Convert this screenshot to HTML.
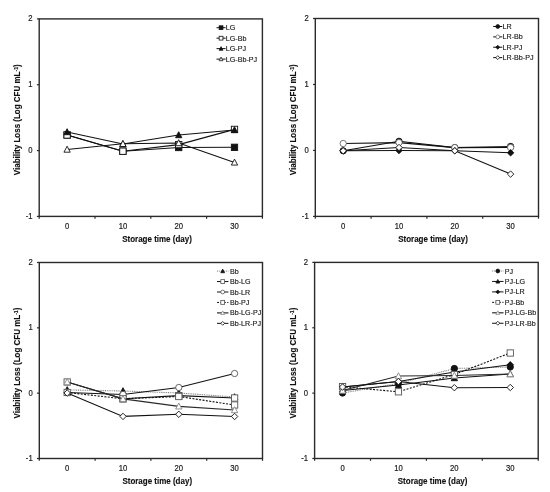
<!DOCTYPE html>
<html><head><meta charset="utf-8"><title>Viability loss</title>
<style>
html,body{margin:0;padding:0;background:#fff;}
svg{display:block;filter:blur(0.3px);}
text{font-family:"Liberation Sans",Arial,sans-serif;fill:#1a1a1a;}
.tk{font-size:8px;stroke:#1a1a1a;stroke-width:0.18px;}
.ti{font-size:8px;font-weight:bold;fill:#111;stroke:#111;stroke-width:0.12px;}
.sup{font-size:5.2px;}
.lg{font-size:7.15px;fill:#1a1a1a;stroke:#1a1a1a;stroke-width:0.15px;}
</style></head>
<body>
<svg width="550" height="492" viewBox="0 0 550 492">
<rect width="550" height="492" fill="#fff"/>
<rect x="39.2" y="18.9" width="223.2" height="197.5" fill="none" stroke="#2a2a2a" stroke-width="1.4"/>
<line x1="36.9" y1="18.9" x2="39.2" y2="18.9" stroke="#2a2a2a" stroke-width="1.2"/>
<text transform="translate(32.6,21.3) scale(0.96,1.2)" class="tk" text-anchor="end">2</text>
<line x1="36.9" y1="84.73" x2="39.2" y2="84.73" stroke="#2a2a2a" stroke-width="1.2"/>
<text transform="translate(32.6,87.13) scale(0.96,1.2)" class="tk" text-anchor="end">1</text>
<line x1="36.9" y1="150.57" x2="39.2" y2="150.57" stroke="#2a2a2a" stroke-width="1.2"/>
<text transform="translate(32.6,152.97) scale(0.96,1.2)" class="tk" text-anchor="end">0</text>
<line x1="36.9" y1="216.4" x2="39.2" y2="216.4" stroke="#2a2a2a" stroke-width="1.2"/>
<text transform="translate(32.6,218.8) scale(0.96,1.2)" class="tk" text-anchor="end">-1</text>
<line x1="39.2" y1="216.4" x2="39.2" y2="218.7" stroke="#2a2a2a" stroke-width="1.2"/>
<line x1="95" y1="216.4" x2="95" y2="218.7" stroke="#2a2a2a" stroke-width="1.2"/>
<line x1="150.8" y1="216.4" x2="150.8" y2="218.7" stroke="#2a2a2a" stroke-width="1.2"/>
<line x1="206.6" y1="216.4" x2="206.6" y2="218.7" stroke="#2a2a2a" stroke-width="1.2"/>
<line x1="262.4" y1="216.4" x2="262.4" y2="218.7" stroke="#2a2a2a" stroke-width="1.2"/>
<text transform="translate(67.1,228.8) scale(0.96,1.2)" class="tk" text-anchor="middle">0</text>
<text transform="translate(122.9,228.8) scale(0.96,1.2)" class="tk" text-anchor="middle">10</text>
<text transform="translate(178.7,228.8) scale(0.96,1.2)" class="tk" text-anchor="middle">20</text>
<text transform="translate(234.5,228.8) scale(0.96,1.2)" class="tk" text-anchor="middle">30</text>
<text transform="translate(122.2,241.5) scale(1,1.1)" class="ti">Storage time (day)</text>
<text transform="translate(19.5,175.2) rotate(-90) scale(1,1.1)" class="ti">Viability Loss (Log CFU mL<tspan dy="-1.2" class="sup">-1</tspan><tspan dy="1.2">)</tspan></text>
<polyline points="67.1,135 122.9,151.2 178.7,147.5 234.5,147.3" fill="none" stroke="#111" stroke-width="1.1" />
<rect x="63.95" y="131.85" width="6.3" height="6.3" fill="#111" stroke="#111" stroke-width="0.9"/><rect x="119.75" y="148.05" width="6.3" height="6.3" fill="#111" stroke="#111" stroke-width="0.9"/><rect x="175.55" y="144.35" width="6.3" height="6.3" fill="#111" stroke="#111" stroke-width="0.9"/><rect x="231.35" y="144.15" width="6.3" height="6.3" fill="#111" stroke="#111" stroke-width="0.9"/>
<polyline points="67.1,135 122.9,151.2 178.7,144.6 234.5,129.4" fill="none" stroke="#111" stroke-width="1.1" />
<rect x="63.95" y="131.85" width="6.3" height="6.3" fill="#fff" stroke="#111" stroke-width="0.9"/><rect x="119.75" y="148.05" width="6.3" height="6.3" fill="#fff" stroke="#111" stroke-width="0.9"/><rect x="175.55" y="141.45" width="6.3" height="6.3" fill="#fff" stroke="#111" stroke-width="0.9"/><rect x="231.35" y="126.25" width="6.3" height="6.3" fill="#fff" stroke="#111" stroke-width="0.9"/>
<polyline points="67.1,132 122.9,144 178.7,135 234.5,130" fill="none" stroke="#111" stroke-width="1.1" />
<polygon points="67.1,128.71 70.25,134.69 63.95,134.69" fill="#111" stroke="#111" stroke-width="0.9"/><polygon points="122.9,140.71 126.05,146.69 119.75,146.69" fill="#111" stroke="#111" stroke-width="0.9"/><polygon points="178.7,131.71 181.85,137.69 175.55,137.69" fill="#111" stroke="#111" stroke-width="0.9"/><polygon points="234.5,126.71 237.65,132.69 231.35,132.69" fill="#111" stroke="#111" stroke-width="0.9"/>
<polyline points="67.1,149.5 122.9,143.8 178.7,143 234.5,162.4" fill="none" stroke="#111" stroke-width="1.1" />
<polygon points="67.1,146.21 70.25,152.19 63.95,152.19" fill="#fff" stroke="#111" stroke-width="0.9"/><polygon points="122.9,140.51 126.05,146.49 119.75,146.49" fill="#fff" stroke="#111" stroke-width="0.9"/><polygon points="178.7,139.71 181.85,145.69 175.55,145.69" fill="#fff" stroke="#111" stroke-width="0.9"/><polygon points="234.5,159.11 237.65,165.09 231.35,165.09" fill="#fff" stroke="#111" stroke-width="0.9"/>
<line x1="216.5" y1="27.7" x2="225.6" y2="27.7" stroke="#111" stroke-width="1" />
<rect x="219.15" y="25.8" width="3.8" height="3.8" fill="#111" stroke="#111" stroke-width="0.8"/>
<text x="225.8" y="30.2" class="lg">LG</text>
<line x1="216.5" y1="38.17" x2="225.6" y2="38.17" stroke="#111" stroke-width="1" />
<rect x="219.15" y="36.27" width="3.8" height="3.8" fill="#fff" stroke="#111" stroke-width="0.8"/>
<text x="225.8" y="40.67" class="lg">LG-Bb</text>
<line x1="216.5" y1="48.64" x2="225.6" y2="48.64" stroke="#111" stroke-width="1" />
<polygon points="221.05,46.65 222.95,50.26 219.15,50.26" fill="#111" stroke="#111" stroke-width="0.8"/>
<text x="225.8" y="51.14" class="lg">LG-PJ</text>
<line x1="216.5" y1="59.11" x2="225.6" y2="59.11" stroke="#111" stroke-width="1" />
<polygon points="221.05,57.12 222.95,60.73 219.15,60.73" fill="#fff" stroke="#111" stroke-width="0.8"/>
<text x="225.8" y="61.61" class="lg">LG-Bb-PJ</text>
<rect x="315.3" y="18.5" width="223.2" height="197.9" fill="none" stroke="#2a2a2a" stroke-width="1.4"/>
<line x1="313" y1="18.5" x2="315.3" y2="18.5" stroke="#2a2a2a" stroke-width="1.2"/>
<text transform="translate(308.7,20.9) scale(0.96,1.2)" class="tk" text-anchor="end">2</text>
<line x1="313" y1="84.47" x2="315.3" y2="84.47" stroke="#2a2a2a" stroke-width="1.2"/>
<text transform="translate(308.7,86.87) scale(0.96,1.2)" class="tk" text-anchor="end">1</text>
<line x1="313" y1="150.43" x2="315.3" y2="150.43" stroke="#2a2a2a" stroke-width="1.2"/>
<text transform="translate(308.7,152.83) scale(0.96,1.2)" class="tk" text-anchor="end">0</text>
<line x1="313" y1="216.4" x2="315.3" y2="216.4" stroke="#2a2a2a" stroke-width="1.2"/>
<text transform="translate(308.7,218.8) scale(0.96,1.2)" class="tk" text-anchor="end">-1</text>
<line x1="315.3" y1="216.4" x2="315.3" y2="218.7" stroke="#2a2a2a" stroke-width="1.2"/>
<line x1="371.1" y1="216.4" x2="371.1" y2="218.7" stroke="#2a2a2a" stroke-width="1.2"/>
<line x1="426.9" y1="216.4" x2="426.9" y2="218.7" stroke="#2a2a2a" stroke-width="1.2"/>
<line x1="482.7" y1="216.4" x2="482.7" y2="218.7" stroke="#2a2a2a" stroke-width="1.2"/>
<line x1="538.5" y1="216.4" x2="538.5" y2="218.7" stroke="#2a2a2a" stroke-width="1.2"/>
<text transform="translate(343.2,228.8) scale(0.96,1.2)" class="tk" text-anchor="middle">0</text>
<text transform="translate(399,228.8) scale(0.96,1.2)" class="tk" text-anchor="middle">10</text>
<text transform="translate(454.8,228.8) scale(0.96,1.2)" class="tk" text-anchor="middle">20</text>
<text transform="translate(510.6,228.8) scale(0.96,1.2)" class="tk" text-anchor="middle">30</text>
<text transform="translate(398.2,241.5) scale(1,1.1)" class="ti">Storage time (day)</text>
<text transform="translate(295.5,175.2) rotate(-90) scale(1,1.1)" class="ti">Viability Loss (Log CFU mL<tspan dy="-1.2" class="sup">-1</tspan><tspan dy="1.2">)</tspan></text>
<polyline points="343.2,150.8 399,141.3 454.8,147.6 510.6,146.5" fill="none" stroke="#111" stroke-width="1.1" />
<circle cx="343.2" cy="150.8" r="3.15" fill="#111" stroke="#111" stroke-width="0.9"/><circle cx="399" cy="141.3" r="3.15" fill="#111" stroke="#111" stroke-width="0.9"/><circle cx="454.8" cy="147.6" r="3.15" fill="#111" stroke="#111" stroke-width="0.9"/><circle cx="510.6" cy="146.5" r="3.15" fill="#111" stroke="#111" stroke-width="0.9"/>
<polyline points="343.2,143.5 399,142.6 454.8,147.6 510.6,147.5" fill="none" stroke="#111" stroke-width="1.1" />
<circle cx="343.2" cy="143.5" r="3.15" fill="#fff" stroke="#666" stroke-width="0.9"/><circle cx="399" cy="142.6" r="3.15" fill="#fff" stroke="#666" stroke-width="0.9"/><circle cx="454.8" cy="147.6" r="3.15" fill="#fff" stroke="#666" stroke-width="0.9"/><circle cx="510.6" cy="147.5" r="3.15" fill="#fff" stroke="#666" stroke-width="0.9"/>
<polyline points="343.2,150.8 399,150.5 454.8,150.8 510.6,152.8" fill="none" stroke="#111" stroke-width="1.1" />
<polygon points="343.2,147.59 346.41,150.8 343.2,154.01 339.99,150.8" fill="#111" stroke="#111" stroke-width="0.9"/><polygon points="399,147.29 402.21,150.5 399,153.71 395.79,150.5" fill="#111" stroke="#111" stroke-width="0.9"/><polygon points="454.8,147.59 458.01,150.8 454.8,154.01 451.59,150.8" fill="#111" stroke="#111" stroke-width="0.9"/><polygon points="510.6,149.59 513.81,152.8 510.6,156.01 507.39,152.8" fill="#111" stroke="#111" stroke-width="0.9"/>
<polyline points="343.2,150.8 399,147.5 454.8,150.8 510.6,174.1" fill="none" stroke="#111" stroke-width="1.1" />
<polygon points="343.2,147.59 346.41,150.8 343.2,154.01 339.99,150.8" fill="#fff" stroke="#111" stroke-width="0.9"/><polygon points="399,144.29 402.21,147.5 399,150.71 395.79,147.5" fill="#fff" stroke="#111" stroke-width="0.9"/><polygon points="454.8,147.59 458.01,150.8 454.8,154.01 451.59,150.8" fill="#fff" stroke="#111" stroke-width="0.9"/><polygon points="510.6,170.89 513.81,174.1 510.6,177.31 507.39,174.1" fill="#fff" stroke="#111" stroke-width="0.9"/>
<line x1="493.2" y1="26.5" x2="502.3" y2="26.5" stroke="#111" stroke-width="1" />
<circle cx="497.75" cy="26.5" r="1.9" fill="#111" stroke="#111" stroke-width="0.8"/>
<text x="502.6" y="29" class="lg">LR</text>
<line x1="493.2" y1="36.87" x2="502.3" y2="36.87" stroke="#111" stroke-width="1" />
<circle cx="497.75" cy="36.87" r="1.9" fill="#fff" stroke="#666" stroke-width="0.8"/>
<text x="502.6" y="39.37" class="lg">LR-Bb</text>
<line x1="493.2" y1="47.24" x2="502.3" y2="47.24" stroke="#111" stroke-width="1" />
<polygon points="497.75,45.3 499.69,47.24 497.75,49.18 495.81,47.24" fill="#111" stroke="#111" stroke-width="0.8"/>
<text x="502.6" y="49.74" class="lg">LR-PJ</text>
<line x1="493.2" y1="57.61" x2="502.3" y2="57.61" stroke="#111" stroke-width="1" />
<polygon points="497.75,55.67 499.69,57.61 497.75,59.55 495.81,57.61" fill="#fff" stroke="#111" stroke-width="0.8"/>
<text x="502.6" y="60.11" class="lg">LR-Bb-PJ</text>
<rect x="39.3" y="262.5" width="223.2" height="196" fill="none" stroke="#2a2a2a" stroke-width="1.4"/>
<line x1="37" y1="262.5" x2="39.3" y2="262.5" stroke="#2a2a2a" stroke-width="1.2"/>
<text transform="translate(32.7,264.9) scale(0.96,1.2)" class="tk" text-anchor="end">2</text>
<line x1="37" y1="327.83" x2="39.3" y2="327.83" stroke="#2a2a2a" stroke-width="1.2"/>
<text transform="translate(32.7,330.23) scale(0.96,1.2)" class="tk" text-anchor="end">1</text>
<line x1="37" y1="393.17" x2="39.3" y2="393.17" stroke="#2a2a2a" stroke-width="1.2"/>
<text transform="translate(32.7,395.57) scale(0.96,1.2)" class="tk" text-anchor="end">0</text>
<line x1="37" y1="458.5" x2="39.3" y2="458.5" stroke="#2a2a2a" stroke-width="1.2"/>
<text transform="translate(32.7,460.9) scale(0.96,1.2)" class="tk" text-anchor="end">-1</text>
<line x1="39.3" y1="458.5" x2="39.3" y2="460.8" stroke="#2a2a2a" stroke-width="1.2"/>
<line x1="95.1" y1="458.5" x2="95.1" y2="460.8" stroke="#2a2a2a" stroke-width="1.2"/>
<line x1="150.9" y1="458.5" x2="150.9" y2="460.8" stroke="#2a2a2a" stroke-width="1.2"/>
<line x1="206.7" y1="458.5" x2="206.7" y2="460.8" stroke="#2a2a2a" stroke-width="1.2"/>
<line x1="262.5" y1="458.5" x2="262.5" y2="460.8" stroke="#2a2a2a" stroke-width="1.2"/>
<text transform="translate(67.2,470.9) scale(0.96,1.2)" class="tk" text-anchor="middle">0</text>
<text transform="translate(123,470.9) scale(0.96,1.2)" class="tk" text-anchor="middle">10</text>
<text transform="translate(178.8,470.9) scale(0.96,1.2)" class="tk" text-anchor="middle">20</text>
<text transform="translate(234.6,470.9) scale(0.96,1.2)" class="tk" text-anchor="middle">30</text>
<text transform="translate(122.4,483.6) scale(1,1.1)" class="ti">Storage time (day)</text>
<text transform="translate(19.7,418.5) rotate(-90) scale(1,1.1)" class="ti">Viability Loss (Log CFU mL<tspan dy="-1.2" class="sup">-1</tspan><tspan dy="1.2">)</tspan></text>
<polyline points="67.2,389.9 123,391 178.8,393 234.6,397" fill="none" stroke="#808080" stroke-width="1.1" stroke-dasharray="1,0.8"/>
<polygon points="67.2,386.61 70.35,392.59 64.05,392.59" fill="#111" stroke="#111" stroke-width="0.9"/><polygon points="123,387.71 126.15,393.69 119.85,393.69" fill="#111" stroke="#111" stroke-width="0.9"/><polygon points="178.8,389.71 181.95,395.69 175.65,395.69" fill="#111" stroke="#111" stroke-width="0.9"/><polygon points="234.6,393.71 237.75,399.69 231.45,399.69" fill="#111" stroke="#111" stroke-width="0.9"/>
<polyline points="67.2,382 123,398.8 178.8,395.6 234.6,398" fill="none" stroke="#111" stroke-width="1.1" />
<rect x="64.05" y="378.85" width="6.3" height="6.3" fill="#fff" stroke="#555" stroke-width="0.9"/><rect x="119.85" y="395.65" width="6.3" height="6.3" fill="#fff" stroke="#555" stroke-width="0.9"/><rect x="175.65" y="392.45" width="6.3" height="6.3" fill="#fff" stroke="#555" stroke-width="0.9"/><rect x="231.45" y="394.85" width="6.3" height="6.3" fill="#fff" stroke="#555" stroke-width="0.9"/>
<polyline points="67.2,392.5 123,394.5 178.8,387.5 234.6,373.5" fill="none" stroke="#111" stroke-width="1.1" />
<circle cx="67.2" cy="392.5" r="3.15" fill="#fff" stroke="#555" stroke-width="0.9"/><circle cx="123" cy="394.5" r="3.15" fill="#fff" stroke="#555" stroke-width="0.9"/><circle cx="178.8" cy="387.5" r="3.15" fill="#fff" stroke="#555" stroke-width="0.9"/><circle cx="234.6" cy="373.5" r="3.15" fill="#fff" stroke="#555" stroke-width="0.9"/>
<polyline points="67.2,392.5 123,398.8 178.8,396.5 234.6,405" fill="none" stroke="#111" stroke-width="1.1" stroke-dasharray="2,1.4"/>
<rect x="64.05" y="389.35" width="6.3" height="6.3" fill="#fff" stroke="#555" stroke-width="0.9"/><rect x="119.85" y="395.65" width="6.3" height="6.3" fill="#fff" stroke="#555" stroke-width="0.9"/><rect x="175.65" y="393.35" width="6.3" height="6.3" fill="#fff" stroke="#555" stroke-width="0.9"/><rect x="231.45" y="401.85" width="6.3" height="6.3" fill="#fff" stroke="#555" stroke-width="0.9"/>
<polyline points="67.2,382 123,398.8 178.8,406.3 234.6,410" fill="none" stroke="#2a2a2a" stroke-width="1.2" />
<polygon points="67.2,378.71 70.35,384.69 64.05,384.69" fill="#fff" stroke="#888" stroke-width="0.9"/><polygon points="123,395.51 126.15,401.49 119.85,401.49" fill="#fff" stroke="#888" stroke-width="0.9"/><polygon points="178.8,403.01 181.95,408.99 175.65,408.99" fill="#fff" stroke="#888" stroke-width="0.9"/><polygon points="234.6,406.71 237.75,412.69 231.45,412.69" fill="#fff" stroke="#888" stroke-width="0.9"/>
<polyline points="67.2,393 123,416.4 178.8,414.3 234.6,416.5" fill="none" stroke="#111" stroke-width="1.1" />
<polygon points="67.2,389.79 70.41,393 67.2,396.21 63.99,393" fill="#fff" stroke="#111" stroke-width="0.9"/><polygon points="123,413.19 126.21,416.4 123,419.61 119.79,416.4" fill="#fff" stroke="#111" stroke-width="0.9"/><polygon points="178.8,411.09 182.01,414.3 178.8,417.51 175.59,414.3" fill="#fff" stroke="#111" stroke-width="0.9"/><polygon points="234.6,413.29 237.81,416.5 234.6,419.71 231.39,416.5" fill="#fff" stroke="#111" stroke-width="0.9"/>
<line x1="217" y1="271.1" x2="228.4" y2="271.1" stroke="#808080" stroke-width="1" stroke-dasharray="1,0.8"/>
<polygon points="222.7,269.11 224.6,272.72 220.8,272.72" fill="#111" stroke="#111" stroke-width="0.8"/>
<text x="230" y="273.6" class="lg">Bb</text>
<line x1="217" y1="281.55" x2="228.4" y2="281.55" stroke="#111" stroke-width="1" />
<rect x="220.8" y="279.65" width="3.8" height="3.8" fill="#fff" stroke="#555" stroke-width="0.8"/>
<text x="230" y="284.05" class="lg">Bb-LG</text>
<line x1="217" y1="292" x2="228.4" y2="292" stroke="#111" stroke-width="1" />
<circle cx="222.7" cy="292" r="1.9" fill="#fff" stroke="#555" stroke-width="0.8"/>
<text x="230" y="294.5" class="lg">Bb-LR</text>
<line x1="217" y1="302.45" x2="228.4" y2="302.45" stroke="#111" stroke-width="1" stroke-dasharray="2,1.4"/>
<rect x="220.8" y="300.55" width="3.8" height="3.8" fill="#fff" stroke="#555" stroke-width="0.8"/>
<text x="230" y="304.95" class="lg">Bb-PJ</text>
<line x1="217" y1="312.9" x2="228.4" y2="312.9" stroke="#2a2a2a" stroke-width="1.2" />
<polygon points="222.7,310.91 224.6,314.52 220.8,314.52" fill="#fff" stroke="#888" stroke-width="0.8"/>
<text x="230" y="315.4" class="lg">Bb-LG-PJ</text>
<line x1="217" y1="323.35" x2="228.4" y2="323.35" stroke="#111" stroke-width="1" />
<polygon points="222.7,321.41 224.64,323.35 222.7,325.29 220.76,323.35" fill="#fff" stroke="#111" stroke-width="0.8"/>
<text x="230" y="325.85" class="lg">Bb-LR-PJ</text>
<rect x="314.6" y="262.4" width="223.6" height="196.1" fill="none" stroke="#2a2a2a" stroke-width="1.4"/>
<line x1="312.3" y1="262.4" x2="314.6" y2="262.4" stroke="#2a2a2a" stroke-width="1.2"/>
<text transform="translate(308,264.8) scale(0.96,1.2)" class="tk" text-anchor="end">2</text>
<line x1="312.3" y1="327.77" x2="314.6" y2="327.77" stroke="#2a2a2a" stroke-width="1.2"/>
<text transform="translate(308,330.17) scale(0.96,1.2)" class="tk" text-anchor="end">1</text>
<line x1="312.3" y1="393.13" x2="314.6" y2="393.13" stroke="#2a2a2a" stroke-width="1.2"/>
<text transform="translate(308,395.53) scale(0.96,1.2)" class="tk" text-anchor="end">0</text>
<line x1="312.3" y1="458.5" x2="314.6" y2="458.5" stroke="#2a2a2a" stroke-width="1.2"/>
<text transform="translate(308,460.9) scale(0.96,1.2)" class="tk" text-anchor="end">-1</text>
<line x1="314.6" y1="458.5" x2="314.6" y2="460.8" stroke="#2a2a2a" stroke-width="1.2"/>
<line x1="370.5" y1="458.5" x2="370.5" y2="460.8" stroke="#2a2a2a" stroke-width="1.2"/>
<line x1="426.4" y1="458.5" x2="426.4" y2="460.8" stroke="#2a2a2a" stroke-width="1.2"/>
<line x1="482.3" y1="458.5" x2="482.3" y2="460.8" stroke="#2a2a2a" stroke-width="1.2"/>
<line x1="538.2" y1="458.5" x2="538.2" y2="460.8" stroke="#2a2a2a" stroke-width="1.2"/>
<text transform="translate(342.55,470.9) scale(0.96,1.2)" class="tk" text-anchor="middle">0</text>
<text transform="translate(398.45,470.9) scale(0.96,1.2)" class="tk" text-anchor="middle">10</text>
<text transform="translate(454.35,470.9) scale(0.96,1.2)" class="tk" text-anchor="middle">20</text>
<text transform="translate(510.25,470.9) scale(0.96,1.2)" class="tk" text-anchor="middle">30</text>
<text transform="translate(397.8,483.6) scale(1,1.1)" class="ti">Storage time (day)</text>
<text transform="translate(295.7,418.5) rotate(-90) scale(1,1.1)" class="ti">Viability Loss (Log CFU mL<tspan dy="-1.2" class="sup">-1</tspan><tspan dy="1.2">)</tspan></text>
<polyline points="342.55,393 398.45,383.5 454.35,368.5 510.25,367" fill="none" stroke="#808080" stroke-width="1.1" stroke-dasharray="1,0.8"/>
<circle cx="342.55" cy="393" r="3.15" fill="#111" stroke="#111" stroke-width="0.9"/><circle cx="398.45" cy="383.5" r="3.15" fill="#111" stroke="#111" stroke-width="0.9"/><circle cx="454.35" cy="368.5" r="3.15" fill="#111" stroke="#111" stroke-width="0.9"/><circle cx="510.25" cy="367" r="3.15" fill="#111" stroke="#111" stroke-width="0.9"/>
<polyline points="342.55,390.5 398.45,385 454.35,378 510.25,374" fill="none" stroke="#111" stroke-width="1.1" />
<polygon points="342.55,387.21 345.7,393.19 339.4,393.19" fill="#111" stroke="#111" stroke-width="0.9"/><polygon points="398.45,381.71 401.6,387.69 395.3,387.69" fill="#111" stroke="#111" stroke-width="0.9"/><polygon points="454.35,374.71 457.5,380.69 451.2,380.69" fill="#111" stroke="#111" stroke-width="0.9"/><polygon points="510.25,370.71 513.4,376.69 507.1,376.69" fill="#111" stroke="#111" stroke-width="0.9"/>
<polyline points="342.55,387 398.45,381.5 454.35,372 510.25,364.8" fill="none" stroke="#111" stroke-width="1.1" />
<polygon points="342.55,383.79 345.76,387 342.55,390.21 339.34,387" fill="#111" stroke="#111" stroke-width="0.9"/><polygon points="398.45,378.29 401.66,381.5 398.45,384.71 395.24,381.5" fill="#111" stroke="#111" stroke-width="0.9"/><polygon points="454.35,368.79 457.56,372 454.35,375.21 451.14,372" fill="#111" stroke="#111" stroke-width="0.9"/><polygon points="510.25,361.59 513.46,364.8 510.25,368.01 507.04,364.8" fill="#111" stroke="#111" stroke-width="0.9"/>
<polyline points="342.55,386.7 398.45,391.8 454.35,374.5 510.25,353" fill="none" stroke="#111" stroke-width="1.1" stroke-dasharray="2,1.4"/>
<rect x="339.4" y="383.55" width="6.3" height="6.3" fill="#fff" stroke="#555" stroke-width="0.9"/><rect x="395.3" y="388.65" width="6.3" height="6.3" fill="#fff" stroke="#555" stroke-width="0.9"/><rect x="451.2" y="371.35" width="6.3" height="6.3" fill="#fff" stroke="#555" stroke-width="0.9"/><rect x="507.1" y="349.85" width="6.3" height="6.3" fill="#fff" stroke="#555" stroke-width="0.9"/>
<polyline points="342.55,390.5 398.45,376 454.35,375.5 510.25,374" fill="none" stroke="#2a2a2a" stroke-width="1.2" />
<polygon points="342.55,387.21 345.7,393.19 339.4,393.19" fill="#fff" stroke="#888" stroke-width="0.9"/><polygon points="398.45,372.71 401.6,378.69 395.3,378.69" fill="#fff" stroke="#888" stroke-width="0.9"/><polygon points="454.35,372.21 457.5,378.19 451.2,378.19" fill="#fff" stroke="#888" stroke-width="0.9"/><polygon points="510.25,370.71 513.4,376.69 507.1,376.69" fill="#fff" stroke="#888" stroke-width="0.9"/>
<polyline points="342.55,387 398.45,381.5 454.35,387.7 510.25,387.5" fill="none" stroke="#111" stroke-width="1.1" />
<polygon points="342.55,383.79 345.76,387 342.55,390.21 339.34,387" fill="#fff" stroke="#111" stroke-width="0.9"/><polygon points="398.45,378.29 401.66,381.5 398.45,384.71 395.24,381.5" fill="#fff" stroke="#111" stroke-width="0.9"/><polygon points="454.35,384.49 457.56,387.7 454.35,390.91 451.14,387.7" fill="#fff" stroke="#111" stroke-width="0.9"/><polygon points="510.25,384.29 513.46,387.5 510.25,390.71 507.04,387.5" fill="#fff" stroke="#111" stroke-width="0.9"/>
<line x1="492.1" y1="271" x2="503.5" y2="271" stroke="#808080" stroke-width="1" stroke-dasharray="1,0.8"/>
<circle cx="497.8" cy="271" r="1.9" fill="#111" stroke="#111" stroke-width="0.8"/>
<text x="504.8" y="273.5" class="lg">PJ</text>
<line x1="492.1" y1="281.45" x2="503.5" y2="281.45" stroke="#111" stroke-width="1" />
<polygon points="497.8,279.46 499.7,283.07 495.9,283.07" fill="#111" stroke="#111" stroke-width="0.8"/>
<text x="504.8" y="283.95" class="lg">PJ-LG</text>
<line x1="492.1" y1="291.9" x2="503.5" y2="291.9" stroke="#111" stroke-width="1" />
<polygon points="497.8,289.96 499.74,291.9 497.8,293.84 495.86,291.9" fill="#111" stroke="#111" stroke-width="0.8"/>
<text x="504.8" y="294.4" class="lg">PJ-LR</text>
<line x1="492.1" y1="302.35" x2="503.5" y2="302.35" stroke="#111" stroke-width="1" stroke-dasharray="2,1.4"/>
<rect x="495.9" y="300.45" width="3.8" height="3.8" fill="#fff" stroke="#555" stroke-width="0.8"/>
<text x="504.8" y="304.85" class="lg">PJ-Bb</text>
<line x1="492.1" y1="312.8" x2="503.5" y2="312.8" stroke="#2a2a2a" stroke-width="1.2" />
<polygon points="497.8,310.81 499.7,314.42 495.9,314.42" fill="#fff" stroke="#888" stroke-width="0.8"/>
<text x="504.8" y="315.3" class="lg">PJ-LG-Bb</text>
<line x1="492.1" y1="323.25" x2="503.5" y2="323.25" stroke="#111" stroke-width="1" />
<polygon points="497.8,321.31 499.74,323.25 497.8,325.19 495.86,323.25" fill="#fff" stroke="#111" stroke-width="0.8"/>
<text x="504.8" y="325.75" class="lg">PJ-LR-Bb</text>
</svg>
</body></html>
